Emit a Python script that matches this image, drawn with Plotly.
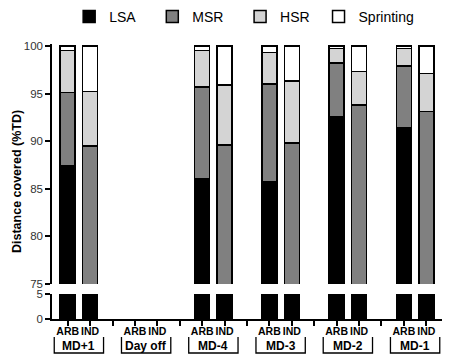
import plotly.graph_objects as go

sessions = ["MD+1", "Day off", "MD-4", "MD-3", "MD-2", "MD-1"]
teams = ["ARB", "IND"]
components = ["LSA", "MSR", "HSR", "Sprinting"]
colors = {"LSA": "#000000", "MSR": "#808080", "HSR": "#d4d4d4", "Sprinting": "#ffffff"}

# segment values (%TD); None = no data (Day off)
arb_lsa = [87.4, None, 86.0, 85.7, 92.6, 91.4]
arb_msr = [7.7, None, 9.7, 10.3, 5.6, 6.5]
arb_hsr = [4.4, None, 3.8, 3.3, 1.55, 1.85]
arb_spr = [0.5, None, 0.5, 0.7, 0.25, 0.25]

ind_lsa = [72.0, None, 72.0, 72.0, 72.0, 72.0]
ind_msr = [17.5, None, 17.6, 17.8, 21.8, 21.1]
ind_hsr = [5.7, None, 6.3, 6.5, 3.5, 4.0]
ind_spr = [4.8, None, 4.1, 3.7, 2.7, 2.9]

data = {
    "ARB": {"LSA": arb_lsa, "MSR": arb_msr, "HSR": arb_hsr, "Sprinting": arb_spr},
    "IND": {"LSA": ind_lsa, "MSR": ind_msr, "HSR": ind_hsr, "Sprinting": ind_spr},
}

FONT = "Arial, Liberation Sans, sans-serif"
# extra legend spacing after each entry name
legend_pad = {"LSA": "\u00a0" * 3, "MSR": "\u00a0" * 3, "HSR": "\u00a0", "Sprinting": ""}

def pos(g, j):
    return 3 * g + 1 + j

fig = go.Figure()
for axis_i, (xa, ya) in enumerate([("x", "y"), ("x2", "y2")]):
    for comp in components:
        xs, ys = [], []
        for g in range(len(sessions)):
            for j, t in enumerate(teams):
                v = data[t][comp][g]
                if v is None:
                    continue
                xs.append(pos(g, j))
                ys.append(v)
        fig.add_trace(go.Bar(
            x=xs, y=ys, name=comp + legend_pad[comp], width=0.67,
            marker=dict(color=colors[comp], line=dict(color="#000000", width=1.5)),
            xaxis=xa, yaxis=ya, showlegend=(axis_i == 0),
        ))

tickvals, ticktext = [], []
for g in range(len(sessions)):
    for j, t in enumerate(teams):
        tickvals.append(pos(g, j))
        ticktext.append("<b>%s</b>" % t)
    if g < len(sessions) - 1:
        tickvals.append(3 * g + 3)
        ticktext.append("")

PLOT_BOTTOM = 319
PLOT_TOP = 44
H = PLOT_BOTTOM - PLOT_TOP

def py(pix):
    return (PLOT_BOTTOM - pix) / H

axis_common = dict(showline=True, linecolor="#000", linewidth=1.5, ticks="outside",
                   tickwidth=1.5, ticklen=5, tickcolor="#000", showgrid=False, zeroline=False,
                   automargin=False)
ytickfont = dict(family=FONT, size=11.5, color="#333")

fig.update_layout(
    width=474, height=362,
    margin=dict(l=52, r=32, t=PLOT_TOP, b=362 - PLOT_BOTTOM, autoexpand=False),
    paper_bgcolor="white", plot_bgcolor="white",
    barmode="stack",
    font=dict(family=FONT, color="#000"),
    xaxis=dict(range=[0.3, 17.7], anchor="y", showline=False, showticklabels=False,
               ticks="", showgrid=False, zeroline=False, domain=[0, 1], automargin=False),
    xaxis2=dict(range=[0.3, 17.7], anchor="y2", tickvals=tickvals, ticktext=ticktext,
                tickangle=0, ticklabelstandoff=-3,
                tickfont=dict(family=FONT, size=10.5, color="#000"),
                domain=[0, 1], **axis_common),
    yaxis=dict(range=[75, 100.2], domain=[py(284), 1], tickvals=[75, 80, 85, 90, 95, 100],
               anchor="x", tickfont=ytickfont, **axis_common),
    yaxis2=dict(range=[0, 5], domain=[0, py(294)], tickvals=[0, 5], anchor="x2",
                tickfont=ytickfont, **axis_common),
    legend=dict(orientation="h", x=0.044, xanchor="left", y=1.04, yanchor="bottom",
                font=dict(family=FONT, size=14, color="#000"), traceorder="normal"),
    showlegend=True,
)

# y-axis title
fig.add_annotation(text="<b>Distance covered (%TD)</b>", textangle=-90, xref="paper", yref="paper",
                   x=-35 / 390, xanchor="center", y=py(182), yanchor="middle", showarrow=False,
                   font=dict(family=FONT, size=12.5, color="#000"))

# group labels with brackets
for g, s in enumerate(sessions):
    c = 3 * g + 1.5
    x0, x1 = c - 1.1, c + 1.1
    fig.add_shape(type="path",
                  path="M %f,%f L %f,%f L %f,%f L %f,%f" % (x0, py(337), x0, py(353), x1, py(353), x1, py(337)),
                  xref="x2", yref="paper", line=dict(color="#000", width=1.3))
    fig.add_annotation(text="<b>%s</b>" % s, x=c, xref="x2", y=py(345.5), yref="paper",
                       yanchor="middle", showarrow=False,
                       font=dict(family=FONT, size=12, color="#000"))

fig.write_html("out.html", config={"displayModeBar": False},
               post_script="document.body.style.margin='0';")
